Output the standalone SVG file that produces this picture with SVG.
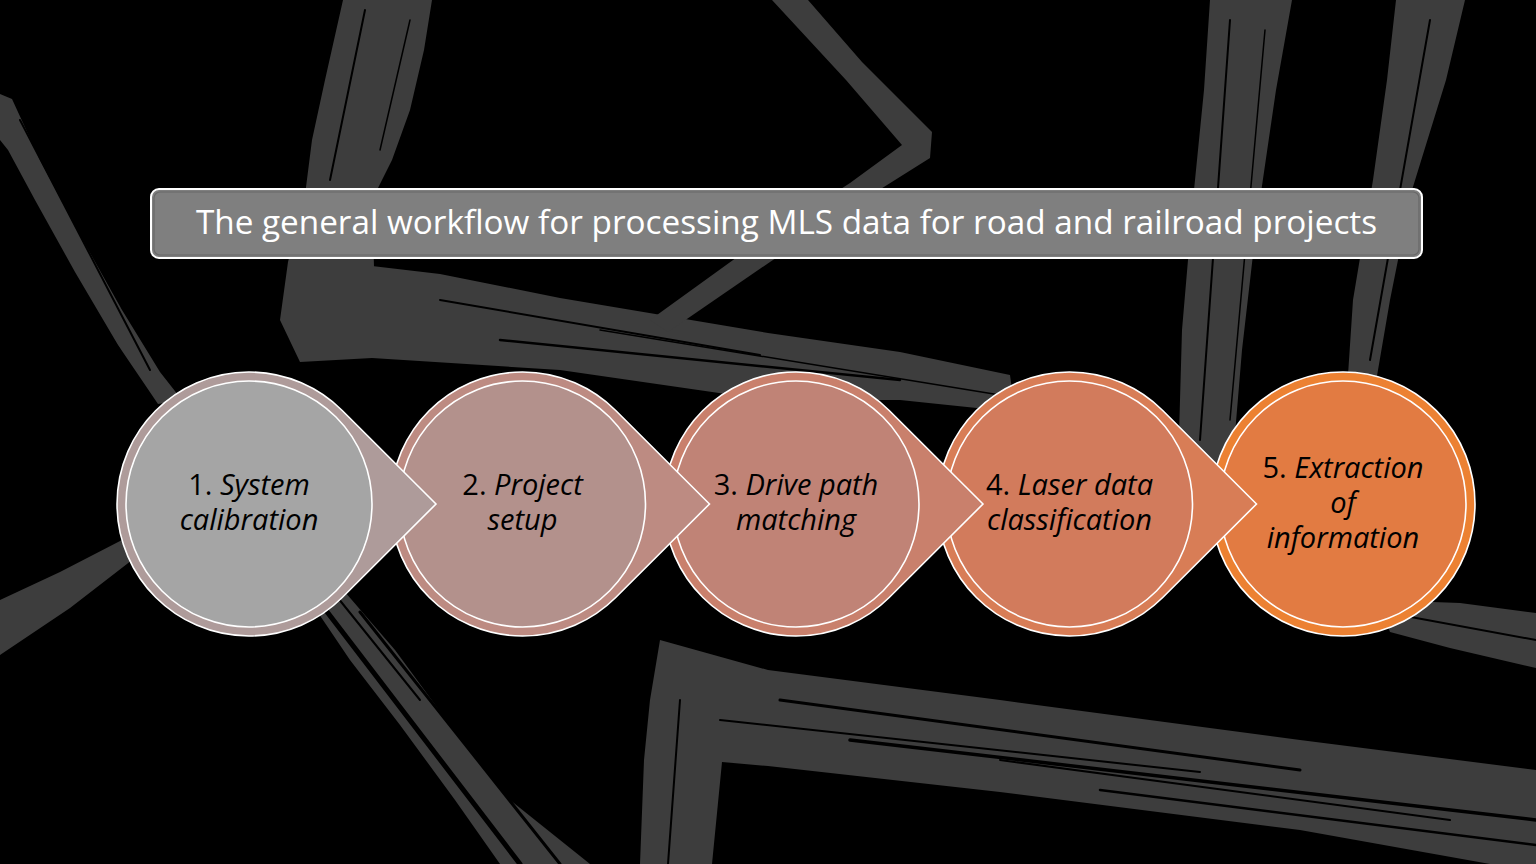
<svg xmlns="http://www.w3.org/2000/svg" width="1536" height="864" viewBox="0 0 1536 864">
  <style>
    .brush { fill: #3d3d3d; }
    .gap { fill: none; stroke: #000000; stroke-linecap: round; }
    .outer { stroke: #ffffff; stroke-width: 1.6; }
    .inner { stroke: #ffffff; stroke-width: 1.6; }
    .lbl { font-family: "Open Sans", "Liberation Sans", sans-serif; font-size: 29px; fill: #000000; text-anchor: middle; }
    .it { font-style: italic; }
    .title { font-family: "Open Sans", "Liberation Sans", sans-serif; font-size: 33.3px; fill: #ffffff; text-anchor: middle; }
  </style>

  <!-- background -->
  <rect x="0" y="0" width="1536" height="864" fill="#000000"/>
  <g id="background">
    <!-- left diagonal stroke (upper part) -->
    <polygon class="brush" points="0,94 12,99 40,160 80,235 122,310 160,372 182,400 158,404 118,345 75,272 35,200 8,150 0,140"/>
    <!-- left diagonal stroke (lower part, below circles 1-2) -->
    <polygon class="brush" points="300,586 345,592 395,650 450,725 510,800 590,864 500,864 455,800 400,725 350,660"/>
    <!-- bottom left rising stroke -->
    <polygon class="brush" points="0,600 60,572 122,540 136,557 70,608 0,655"/>
    <!-- top vertical stroke, continuing below title -->
    <polygon class="brush" points="343,0 432,0 424,50 410,110 392,160 372,200 375,300 372,358 300,362 280,320 288,262 305,195 312,140 325,80"/>
    <!-- long horizontal band -->
    <polygon class="brush" points="372,266 440,274 560,298 768,333 900,352 1010,375 1015,412 900,400 768,400 560,370 372,358"/>
    <!-- V stroke -->
    <polygon class="brush" points="772,0 808,0 862,62 932,132 930,158 860,202 770,262 668,332 650,320 740,255 850,183 902,145 846,80"/>
    <!-- right vertical A -->
    <polygon class="brush" points="1210,0 1292,0 1276,90 1257,220 1242,350 1232,470 1178,470 1182,330 1194,190 1204,90"/>
    <!-- right vertical B -->
    <polygon class="brush" points="1396,0 1465,0 1446,80 1412,190 1390,300 1372,405 1346,405 1353,300 1373,180 1387,80"/>
    <!-- bottom vertical + horizontal band -->
    <polygon class="brush" points="660,640 768,670 1000,700 1300,740 1536,770 1536,864 1490,864 1300,830 1000,792 768,766 722,762 712,864 640,864 644,760 650,700"/>
    <!-- right band near circle 5 -->
    <polygon class="brush" points="1378,600 1460,603 1536,613 1536,668 1450,648 1390,632"/>

    <!-- dry-brush gaps -->
    <g class="gap">
      <path d="M318,600 L520,864" stroke-width="5"/>
      <path d="M360,612 L560,864" stroke-width="3"/>
      <path d="M338,598 L420,700" stroke-width="2"/>
      <path d="M20,120 L150,370" stroke-width="2"/>
      <path d="M60,260 L120,350" stroke-width="1.5"/>
      <path d="M440,300 L760,355" stroke-width="2"/>
      <path d="M500,340 L900,380" stroke-width="2.5"/>
      <path d="M600,330 L1000,395" stroke-width="1.5"/>
      <path d="M780,700 L1300,770" stroke-width="3"/>
      <path d="M720,720 L1200,772" stroke-width="2"/>
      <path d="M850,740 L1536,820" stroke-width="3.5"/>
      <path d="M1000,760 L1450,820" stroke-width="2"/>
      <path d="M1100,790 L1536,845" stroke-width="2.5"/>
      <path d="M680,700 L668,864" stroke-width="2"/>
      <path d="M1230,20 L1200,440" stroke-width="2"/>
      <path d="M1265,30 L1230,420" stroke-width="1.5"/>
      <path d="M1430,20 L1370,360" stroke-width="2"/>
      <path d="M365,10 L330,180" stroke-width="2"/>
      <path d="M410,20 L380,150" stroke-width="1.5"/>
      <path d="M1400,615 L1536,640" stroke-width="2"/>
    </g>
  </g>

  <!-- title -->
  <g id="title">
    <rect x="151" y="189" width="1271" height="69" rx="8" ry="8" fill="#7f7f7f" stroke="#ffffff" stroke-width="2"/>
    <rect x="154" y="192" width="1265" height="63" rx="6" ry="6" fill="none" stroke="#686868" stroke-width="1.2"/>
    <text class="title" x="786.5" y="234">The general workflow for processing MLS data for road and railroad projects</text>
  </g>

  <g id="connectors"></g>

  <!-- steps: drawn last-to-first so each arrow lies over the next circle -->
  <g id="step5">
    <circle class="outer" cx="1343" cy="504" r="132" fill="#ec8132"/>
    <circle class="inner" cx="1343" cy="504" r="123" fill="#e27b42"/>
    <text class="lbl" x="1343" y="478">5. <tspan class="it">Extraction</tspan><tspan class="it" x="1343" dy="35">of</tspan><tspan class="it" x="1343" dy="35">information</tspan></text>
  </g>

  <g id="step4">
    <path class="outer" d="M1256.5,504 L1162.7,410.5 A132,132 0 1 0 1162.7,597.5 Z" fill="#d87d56"/>
    <circle class="inner" cx="1069.5" cy="504" r="123" fill="#d27b5c"/>
    <text class="lbl" x="1069.5" y="495">4. <tspan class="it">Laser data</tspan><tspan class="it" x="1069.5" dy="35">classification</tspan></text>
  </g>

  <g id="step3">
    <path class="outer" d="M983,504 L889.2,410.5 A132,132 0 1 0 889.2,597.5 Z" fill="#c9806c"/>
    <circle class="inner" cx="796" cy="504" r="123" fill="#c08376"/>
    <text class="lbl" x="796" y="495">3. <tspan class="it">Drive path</tspan><tspan class="it" x="796" dy="35">matching</tspan></text>
  </g>

  <g id="step2">
    <path class="outer" d="M709.5,504 L615.7,410.5 A132,132 0 1 0 615.7,597.5 Z" fill="#bd8b82"/>
    <circle class="inner" cx="522.5" cy="504" r="123" fill="#b3918c"/>
    <text class="lbl" x="522.5" y="495">2. <tspan class="it">Project</tspan><tspan class="it" x="522.5" dy="35">setup</tspan></text>
  </g>

  <g id="step1">
    <path class="outer" d="M436,504 L342.2,410.5 A132,132 0 1 0 342.2,597.5 Z" fill="#ae9b9a"/>
    <circle class="inner" cx="249" cy="504" r="123" fill="#a5a5a5"/>
    <text class="lbl" x="249" y="495">1. <tspan class="it">System</tspan><tspan class="it" x="249" dy="35">calibration</tspan></text>
  </g>
</svg>
